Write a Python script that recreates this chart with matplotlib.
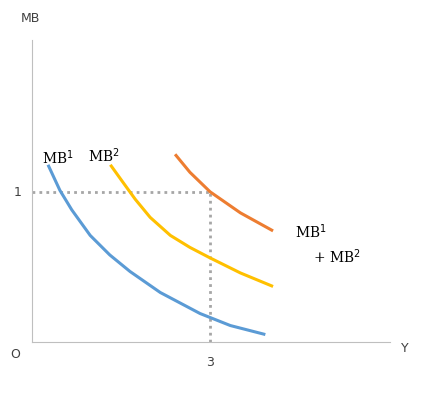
import matplotlib
matplotlib.use("Agg")
import matplotlib.pyplot as plt

blue_x = [0.27, 0.47, 0.67, 0.98, 1.31, 1.65, 2.16, 2.83, 3.34, 3.93]
blue_y = [1.18, 1.01, 0.88, 0.71, 0.58, 0.47, 0.33, 0.19, 0.11, 0.05]
yellow_x = [1.32, 1.52, 1.74, 1.99, 2.33, 2.66, 3.0, 3.51, 4.06]
yellow_y = [1.18, 1.07, 0.95, 0.83, 0.71, 0.63, 0.56, 0.46, 0.37]
orange_x = [2.41, 2.66, 3.0, 3.51, 4.06]
orange_y = [1.25, 1.13, 1.0, 0.86, 0.74]

fig = plt.figure(figsize=(4.34, 4.01), dpi=100)
ax = fig.add_axes([0.0737, 0.147, 0.825, 0.753])
ax.set_xlim(0, 6.03)
ax.set_ylim(0, 2.01)
for s in ['top', 'right']:
    ax.spines[s].set_visible(False)
for s in ['left', 'bottom']:
    ax.spines[s].set_color('#bfbfbf')
ax.set_xticks([]); ax.set_yticks([])

ax.plot([0, 3], [1, 1], color='#a6a6a6', ls=(0, (1, 1.5)), lw=2)
ax.plot([3, 3], [0, 1], color='#a6a6a6', ls=(0, (1, 1.5)), lw=2)
ax.plot(blue_x, blue_y, color='#5b9bd5', lw=2.2, solid_capstyle='butt', solid_joinstyle='round')
ax.plot(yellow_x, yellow_y, color='#ffc000', lw=2.2, solid_capstyle='butt', solid_joinstyle='round')
ax.plot(orange_x, orange_y, color='#ed7d31', lw=2.2, solid_capstyle='butt', solid_joinstyle='round')

fs = 9
fig.text(30/434, 1-18/401, 'MB', fontsize=fs, ha='center', va='center', color='#404040')
fig.text(405/434, 1-348/401, 'Y', fontsize=fs, ha='center', va='center', color='#404040')
fig.text(15/434, 1-355/401, 'O', fontsize=fs, ha='center', va='center', color='#404040')
fig.text(18/434, 1-193/401, '1', fontsize=fs, ha='center', va='center', color='#404040')
fig.text(210/434, 1-362/401, '3', fontsize=fs, ha='center', va='center', color='#404040')
kw = dict(fontsize=10, family='DejaVu Serif', va='center', color='black')
fig.text(42/434, 1-158/401, r'MB$^1$', **kw)
fig.text(88/434, 1-156/401, r'MB$^2$', **kw)
fig.text(295/434, 1-232/401, r'MB$^1$', **kw)
fig.text(313/434, 1-257/401, r'+ MB$^2$', **kw)

fig.savefig('out.png', dpi=100)
